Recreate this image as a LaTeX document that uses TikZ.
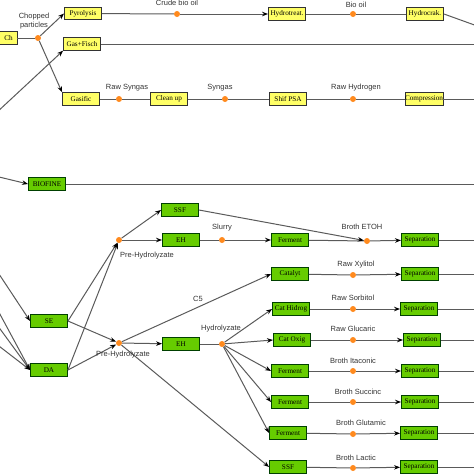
\documentclass[tikz,border=0pt]{standalone}
\usepackage{fontspec}
\setmainfont{Liberation Serif}
\newfontfamily\lblfont{Liberation Sans}
\usetikzlibrary{arrows.meta}
\definecolor{boxyellow}{HTML}{FFFF66}
\definecolor{boxgreen}{HTML}{66CC00}
\definecolor{dotorange}{HTML}{FF8A1E}
\definecolor{flowgray}{HTML}{5A5A5A}
\begin{document}
\begin{tikzpicture}[x=1pt, y=-1pt,
    ybox/.style={rectangle, draw=black!80, line width=0.9pt, fill=boxyellow, minimum width=37pt, minimum height=12.5pt, inner sep=0pt, font=\fontsize{7.2}{8}\selectfont},
    gbox/.style={rectangle, draw=green!25!black, line width=0.9pt, fill=boxgreen, minimum width=37pt, minimum height=12.5pt, inner sep=0pt, font=\fontsize{7.2}{8}\selectfont},
    pdot/.style={circle, fill=dotorange, minimum size=6pt, inner sep=0pt},
    lbl/.style={font=\lblfont\fontsize{7.5}{8.5}\selectfont, text=black!80, inner sep=0pt},
    flow/.style={draw=flowgray, line width=1pt},
    myarrow/.style={flow, -{Stealth[length=6pt, width=4.5pt, black]}},
]
\useasboundingbox (0,0) rectangle (474,474);

% thermochemical routes
\node[ybox, minimum width=22pt] (ch) at (6,38) {\hspace*{5pt}Ch};
\node[pdot] (chop) at (38,38) {};
\node[ybox] (pyro) at (83,13.5) {Pyrolysis};
\node[ybox] (gasfisch) at (82,44) {Gas+Fisch};
\node[ybox] (gasif) at (81,99) {Gasific};
\node[pdot] (cbo) at (177,14) {};
\node[ybox] (htreat) at (287,14) {Hydrotreat.};
\node[pdot] (biooil) at (353,14) {};
\node[ybox] (hcrak) at (425,14) {Hydrocrak.};
\node[pdot] (rawsyn) at (119,99) {};
\node[ybox] (cleanup) at (169,99) {Clean up};
\node[pdot] (syngas) at (225,99) {};
\node[ybox] (shif) at (288,99) {Shif PSA};
\node[pdot] (rawh) at (353,99) {};
\node[ybox] (compr) at (424,99) {Compression};

\coordinate (gfin) at (-5,114);
\coordinate (hcout) at (480,27);
\coordinate (gfout) at (480,44);
\coordinate (comprout) at (480,99);

\draw[flow] (ch) -- (chop);
\draw[myarrow] (chop) -- (pyro.west);
\draw[myarrow] (chop) -- (gasif.north west);
\draw[myarrow] (gfin) -- (gasfisch.south west);
\draw[flow] (pyro) -- (cbo);
\draw[myarrow] (cbo) -- (htreat);
\draw[flow] (htreat) -- (biooil) -- (hcrak);
\draw[flow] (hcrak.east) -- (hcout);
\draw[flow] (gasfisch) -- (gfout);
\draw[flow] (gasif) -- (rawsyn) -- (cleanup) -- (syngas) -- (shif) -- (rawh) -- (compr) -- (comprout);

\node[lbl, align=center] (lchop) at (34,21) {Chopped\\particles};
\node[lbl] (lcbo) at (177,3) {Crude bio oil};
\node[lbl] (lbiooil) at (356,5) {Bio oil};
\node[lbl] (lrawsyn) at (127,88) {Raw Syngas};
\node[lbl] (lsyngas) at (220,88) {Syngas};
\node[lbl] (lrawh) at (356,88) {Raw Hydrogen};

% biofine
\node[gbox] (biofine) at (47,184) {BIOFINE};
\coordinate (bfin) at (-5,176);
\coordinate (bfout) at (480,184);
\draw[myarrow] (bfin) -- (biofine.west);
\draw[flow] (biofine) -- (bfout);

% pretreatment
\node[gbox] (se) at (49,321) {SE};
\node[gbox] (da) at (49,370) {DA};
\coordinate (sein) at (-5,268);
\coordinate (dain1) at (-5,305);
\coordinate (dain2) at (-5,322);
\coordinate (dain3) at (-5,343);
\draw[myarrow] (sein) -- (se.west);
\draw[myarrow] (dain1) -- (da.west);
\draw[myarrow] (dain2) -- (da.west);
\draw[myarrow] (dain3) -- (da.west);

\node[pdot] (prehyd1) at (119,240) {};
\node[pdot] (prehyd2) at (119,343) {};
\draw[myarrow] (se.east) -- (prehyd1);
\draw[myarrow] (da.east) -- (prehyd1);
\draw[myarrow] (se.east) -- (prehyd2);
\draw[myarrow] (da.east) -- (prehyd2);

% ethanol
\node[gbox] (ssf1) at (180,210) {SSF};
\node[gbox] (eh1) at (181,240) {EH};
\node[pdot] (slurry) at (222,240) {};
\node[gbox] (ferm1) at (290,240) {Ferment};
\node[pdot] (etoh) at (367,241) {};
\node[gbox] (sep1) at (420,240) {Separation};
\coordinate (sep1out) at (480,240);
\draw[myarrow] (prehyd1) -- (ssf1.west);
\draw[myarrow] (prehyd1) -- (eh1);
\draw[flow] (eh1) -- (slurry);
\draw[myarrow] (slurry) -- (ferm1);
\draw[flow] (ferm1) -- (etoh);
\draw[myarrow] (ssf1.east) -- (etoh);
\draw[myarrow] (etoh) -- (sep1);
\draw[flow] (sep1) -- (sep1out);

% C5 and hydrolyzate products
\node[gbox] (catalyt) at (290,274) {Catalyt};
\node[pdot] (xyl) at (353,275) {};
\node[gbox] (sep2) at (420,274) {Separation};
\node[gbox] (eh2) at (181,344) {EH};
\node[pdot] (hydro) at (222,344) {};
\node[gbox] (cathid) at (291,309) {Cat Hidrog};
\node[pdot] (sorb) at (353,309) {};
\node[gbox] (sep3) at (419,309) {Separation};
\node[gbox] (catox) at (292,340) {Cat Oxig};
\node[pdot] (gluc) at (353,340) {};
\node[gbox] (sep4) at (422,340) {Separation};
\node[gbox] (ferm2) at (290,371) {Ferment};
\node[pdot] (itac) at (353,371) {};
\node[gbox] (sep5) at (420,371) {Separation};
\node[gbox] (ferm3) at (290,402) {Ferment};
\node[pdot] (succ) at (353,402) {};
\node[gbox] (sep6) at (420,402) {Separation};
\node[gbox] (ferm4) at (288,433) {Ferment};
\node[pdot] (glut) at (353,434) {};
\node[gbox] (sep7) at (419,433) {Separation};
\node[gbox] (ssf2) at (288,467) {SSF};
\node[pdot] (lact) at (353,468) {};
\node[gbox] (sep8) at (419,467) {Separation};

\draw[myarrow] (prehyd2) -- (catalyt.west);
\draw[myarrow] (prehyd2) -- (eh2);
\draw[myarrow] (prehyd2) -- (ssf2.west);
\draw[flow] (eh2) -- (hydro);
\draw[myarrow] (hydro) -- (cathid.west);
\draw[myarrow] (hydro) -- (catox.west);
\draw[myarrow] (hydro) -- (ferm2.west);
\draw[myarrow] (hydro) -- (ferm3.west);
\draw[myarrow] (hydro) -- (ferm4.west);

\foreach \src/\pt/\sep in {catalyt/xyl/sep2, cathid/sorb/sep3, catox/gluc/sep4, ferm2/itac/sep5, ferm3/succ/sep6, ferm4/glut/sep7, ssf2/lact/sep8} {
    \draw[flow] (\src) -- (\pt);
    \draw[myarrow] (\pt) -- (\sep);
    \draw[flow] (\sep.east) -- (480,0 |- \sep);
}

\node[lbl] (lpre1) at (147,256) {Pre-Hydrolyzate};
\node[lbl] (lslurry) at (222,228) {Slurry};
\node[lbl] (letoh) at (362,227) {Broth ETOH};
\node[lbl] (lxyl) at (356,265) {Raw Xylitol};
\node[lbl] (lc5) at (198,299) {C5};
\node[lbl] (lsorb) at (353,298) {Raw Sorbitol};
\node[lbl] (lhydro) at (221,329) {Hydrolyzate};
\node[lbl] (lpre2) at (123,355) {Pre-Hydrolyzate};
\node[lbl] (lgluc) at (353,329) {Raw Glucaric};
\node[lbl] (litac) at (353,361) {Broth Itaconic};
\node[lbl] (lsucc) at (358,392) {Broth Succinc};
\node[lbl] (lglut) at (361,423) {Broth Glutamic};
\node[lbl] (llact) at (356,458) {Broth Lactic};
\end{tikzpicture}
\end{document}
